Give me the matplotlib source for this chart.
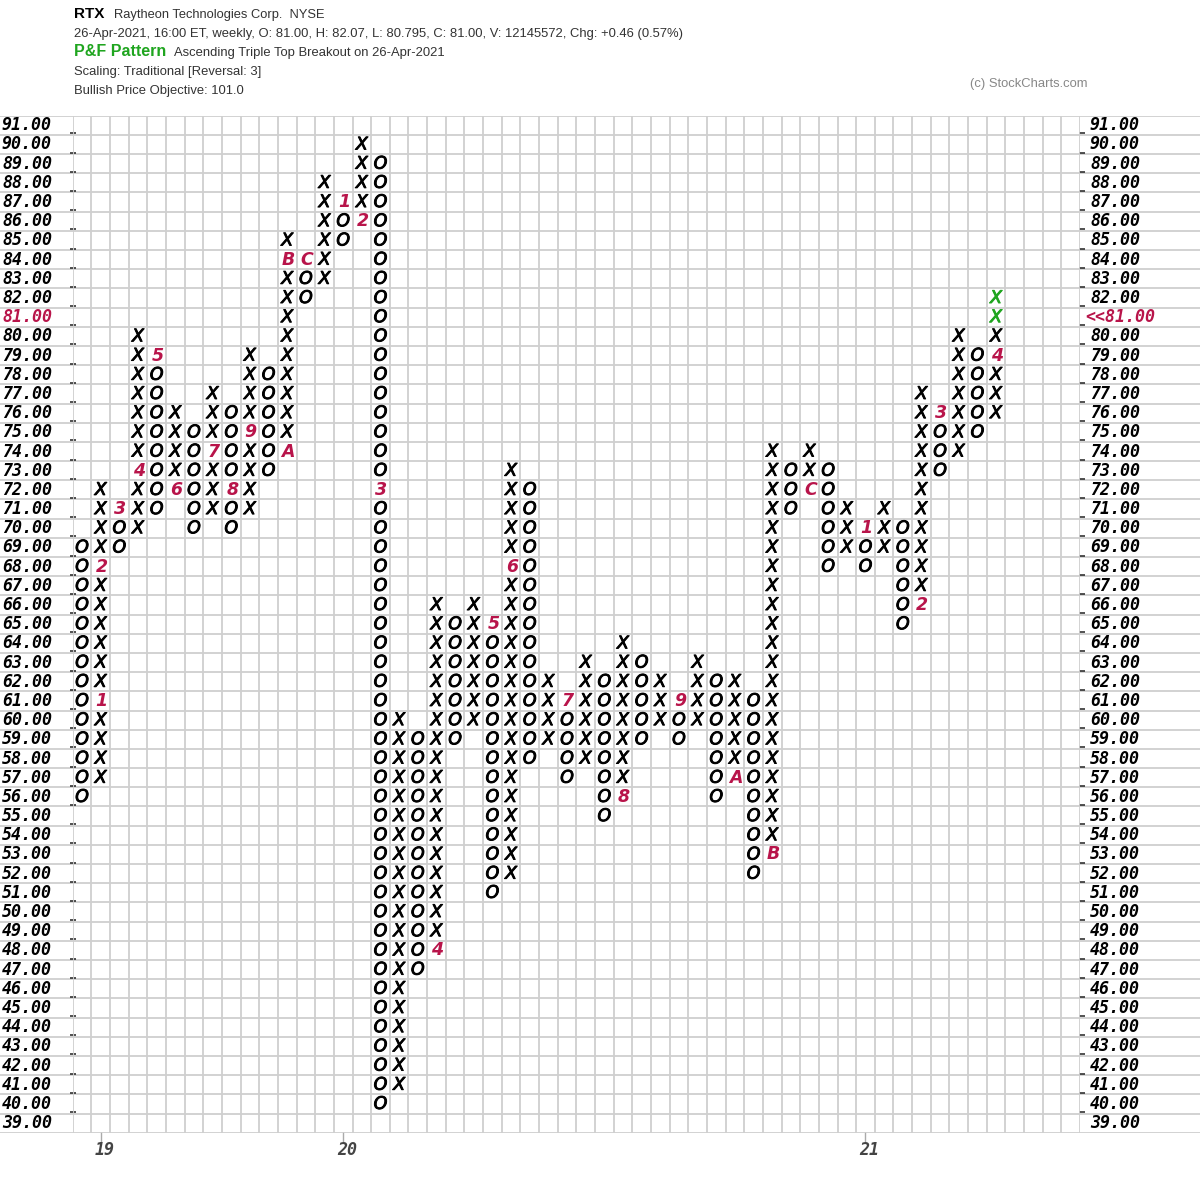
"""
RTX point & figure chart (weekly, traditional scaling, 3-box reversal).
Run: python plot.py  ->  out.png
"""

import matplotlib
matplotlib.use("Agg")
import matplotlib.pyplot as plt
import matplotlib.patheffects as pe

# --------- Data ---------
# one entry per P&F column: kind, lowest box, highest box
col_kind = ["O", "X", "O", "X", "O", "X", "O", "X", "O", "X",
            "O", "X", "O", "X", "O", "X", "O", "X", "O", "X",
            "O", "X", "O", "X", "O", "X", "O", "X", "O", "X",
            "O", "X", "O", "X", "O", "X", "O", "X", "O", "X",
            "O", "X", "O", "X", "O", "X", "O", "X", "O", "X"]
col_low = [56, 57, 69, 70, 71, 72, 70, 71, 70, 71,
           73, 74, 82, 83, 85, 86, 40, 41, 47, 48,
           59, 60, 51, 52, 58, 59, 57, 58, 55, 56,
           59, 60, 59, 60, 56, 57, 52, 53, 71, 72,
           68, 69, 68, 69, 65, 66, 73, 74, 75, 76]
col_high = [69, 72, 71, 80, 79, 76, 75, 77, 76, 79,
            78, 85, 84, 88, 87, 90, 89, 60, 59, 66,
            65, 66, 65, 73, 72, 62, 61, 63, 62, 64,
            63, 62, 61, 63, 62, 62, 61, 74, 73, 74,
            73, 71, 70, 71, 70, 77, 76, 80, 79, 82]

# month markers (1-9, A-C) replacing a box: column, price, label
mark_col = [1, 1, 2, 3, 4, 5, 7, 8, 9, 11, 11, 12, 14, 15, 16, 19, 22, 23,
            26, 29, 32, 35, 37, 39, 42, 45, 46, 49]
mark_price = [61, 68, 71, 73, 79, 72, 74, 72, 75, 74, 84, 84, 87, 86, 72, 48, 65, 68,
              61, 56, 61, 57, 53, 72, 70, 66, 76, 79]
mark_label = ["1", "2", "3", "4", "5", "6", "7", "8", "9", "A", "B", "C", "1", "2", "3", "4", "5", "6",
              "7", "8", "9", "A", "B", "C", "1", "2", "3", "4"]

# boxes added in the current week
new_col = [49, 49]
new_price = [81, 82]

year_cols = [1, 14, 42]
year_labels = ["19", "20", "21"]

last_price = 81
price_min, price_max = 39, 91
n_grid_cols = 54

# --------- Layout (pixels) ---------
W, H = 1200, 1190
GRID_L, GRID_R = 72.7, 1080.0
GRID_T, GRID_B = 115.7, 1132.7

RED = "#b8144a"
GREEN = "#1fa51f"
GRID = "#cfcfcf"
MONO = "DejaVu Sans Mono"
SANS = ["Liberation Sans", "DejaVu Sans"]


def fx(x):
    return x / W


def fy(y):
    return 1 - y / H


fig = plt.figure(figsize=(W / 100, H / 100), dpi=100)
fig.patch.set_facecolor("white")

ylo, yhi = price_min - 0.5, price_max + 0.5
row_px = (GRID_B - GRID_T) / (yhi - ylo)

# full-width axes for horizontal lines and price labels
bg = fig.add_axes([0, fy(GRID_B), 1, (GRID_B - GRID_T) / H])
bg.set_xlim(0, W)
bg.set_ylim(ylo, yhi)
bg.axis("off")
levels = [p + 0.5 for p in range(price_min - 1, price_max + 1)]
bg.hlines(levels, 0, W, color=GRID, lw=1.3, zorder=0)
inner = [v + 1.5 / row_px for v in levels[1:-1]]
bg.hlines(inner, 70, 76, color="#222222", lw=1.1)
bg.hlines(inner, 1079, 1085, color="#222222", lw=1.1)

for p in range(price_min, price_max + 1):
    c = RED if p == last_price else "black"
    bg.text(2, p, f"{p:.2f}", ha="left", va="center", fontsize=12,
            family=MONO, weight="bold", style="italic", color=c)
    rtxt = f"<<{p:.2f}" if p == last_price else f"{p:.2f}"
    rx = 1085 if p == last_price else 1090
    bg.text(rx, p, rtxt, ha="left", va="center", fontsize=12,
            family=MONO, weight="bold", style="italic", color=c)

# grid axes
ax = fig.add_axes([fx(GRID_L), fy(GRID_B), (GRID_R - GRID_L) / W, (GRID_B - GRID_T) / H])
ax.set_xlim(-0.5, n_grid_cols - 0.5)
ax.set_ylim(ylo, yhi)
ax.axis("off")
ax.patch.set_alpha(0)
ax.vlines([c - 0.5 for c in range(n_grid_cols + 1)], ylo, yhi, color=GRID, lw=1.3, zorder=0)

marks = {(c, p): lab for c, p, lab in zip(mark_col, mark_price, mark_label)}
new_boxes = set(zip(new_col, new_price))

box_style = dict(ha="center", va="center", fontsize=12.5, family="DejaVu Sans",
                 style="italic")
for i, (kind, lo, hi) in enumerate(zip(col_kind, col_low, col_high)):
    for p in range(lo, hi + 1):
        if (i, p) in marks:
            ax.text(i + 0.05, p, marks[(i, p)], color=RED, weight="bold", **box_style)
        else:
            c = GREEN if (i, p) in new_boxes else "black"
            t = ax.text(i, p, kind, color=c, **box_style)
            t.set_path_effects([pe.withStroke(linewidth=0.7, foreground=c)])

# year ticks along the bottom
tick_len = 8 / row_px
for c, lab in zip(year_cols, year_labels):
    ax.plot([c, c], [ylo, ylo - tick_len], color="#aaaaaa", lw=1.0, clip_on=False)
    ax.text(c + 0.2, ylo - 17 / row_px, lab, ha="center", va="center", fontsize=12,
            family=MONO, weight="bold", style="italic", color="#444444")

# header
fig.text(fx(74), fy(14), "RTX", fontsize=11, weight="bold", family=SANS,
         va="center", ha="left", color="black")
fig.text(fx(114), fy(15), "Raytheon Technologies Corp.  NYSE", fontsize=9.3,
         family=SANS, va="center", ha="left", color="#333333")
fig.text(fx(74), fy(34),
         "26-Apr-2021, 16:00 ET, weekly, O: 81.00, H: 82.07, L: 80.795, C: 81.00, "
         "V: 12145572, Chg: +0.46 (0.57%)",
         fontsize=9.4, family=SANS, va="center", ha="left", color="#333333")
fig.text(fx(74), fy(52), "P&F Pattern", fontsize=11.5, weight="bold", family=SANS,
         va="center", ha="left", color=GREEN)
fig.text(fx(174), fy(53), "Ascending Triple Top Breakout on 26-Apr-2021", fontsize=9.4,
         family=SANS, va="center", ha="left", color="#333333")
fig.text(fx(74), fy(72), "Scaling: Traditional [Reversal: 3]", fontsize=9.4,
         family=SANS, va="center", ha="left", color="#333333")
fig.text(fx(74), fy(91), "Bullish Price Objective: 101.0", fontsize=9.4,
         family=SANS, va="center", ha="left", color="#333333")
fig.text(fx(970), fy(84), "(c) StockCharts.com", fontsize=9.4, family=SANS,
         va="center", ha="left", color="#888888")

fig.savefig("out.png", dpi=100, facecolor="white")
